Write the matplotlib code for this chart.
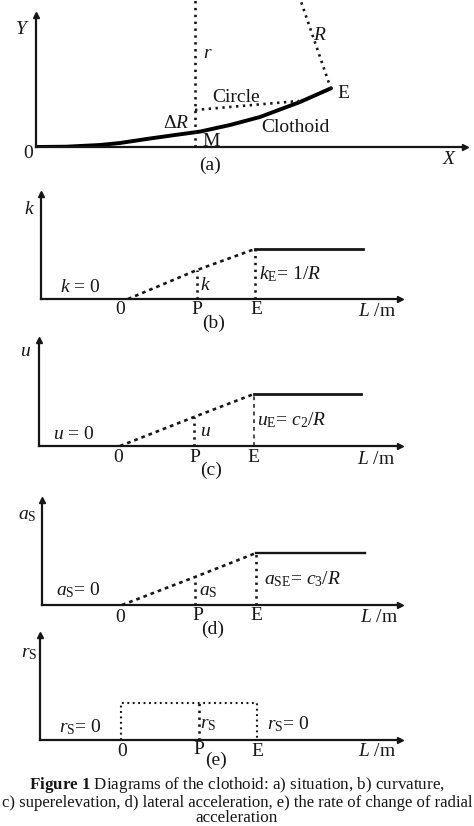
import matplotlib
matplotlib.use("Agg")
import matplotlib.pyplot as plt

plt.rcParams.update({
    "font.family": ["Liberation Serif", "DejaVu Serif"],
    "mathtext.fontset": "custom",
    "mathtext.rm": "Liberation Serif",
    "mathtext.it": "Liberation Serif:italic",
    "mathtext.bf": "Liberation Serif:bold",
})

W, H = 474, 826
INK = "#161616"

# Panel (a): geometry
clothoid_x = [0, 30, 64, 84, 114, 139, 164, 194, 224, 264, 295]
clothoid_y = [0, 0.3, 2, 4, 8.5, 12, 15.4, 22, 30, 45, 58.7]
radius_x = [159, 159]
radius_y = [0, 160]
ordinate_x = [159, 263]
ordinate_y = [37, 46]
big_r_x = [295, 260]
big_r_y = [58, 160]

# Panels (b)-(d): ramp values then a flat stretch
ramp_b_x, ramp_b_y = [87, 156, 214], [0, 29, 50]
flat_b_x, flat_b_y = [214, 322], [50, 50]
ramp_c_x, ramp_c_y = [81, 155, 215], [0, 29, 52]
flat_c_x, flat_c_y = [215, 322], [52, 52]
ramp_d_x, ramp_d_y = [80, 153, 214], [0, 28, 52]
flat_d_x, flat_d_y = [214, 323], [52, 52]
# Panel (e): a rectangular pulse
pulse_e_x = [81, 81, 217, 217]
pulse_e_y = [0, 37, 37, 0]
mid_e_x = [159, 159]
mid_e_y = [0, 37]

CAPTION = [
    r"$\mathbf{Figure\ 1}$ Diagrams of the clothoid: a) situation, b) curvature,",
    "c) superelevation, d) lateral acceleration, e) the rate of change of radial",
    "acceleration",
]

fig = plt.figure(figsize=(W / 100, H / 100), dpi=100, facecolor="white")


def panel(x0, y0, w, h):
    ax = fig.add_axes([x0 / W, 1 - y0 / H, w / W, h / H])
    ax.set_xlim(0, w)
    ax.set_ylim(0, h)
    ax.patch.set_alpha(0)
    for s in ("top", "right"):
        ax.spines[s].set_visible(False)
    for s in ("left", "bottom"):
        ax.spines[s].set_linewidth(1.6)
        ax.spines[s].set_color(INK)
    ax.set_xticks([])
    ax.set_yticks([])
    ax.plot(1, 0, ">", transform=ax.transAxes, clip_on=False, color=INK, ms=4.5)
    ax.plot(0, 1, "^", transform=ax.transAxes, clip_on=False, color=INK, ms=4.5)
    return ax


def dash(ax, x, y, lw=1.9, pat=(1.4, 1.5)):
    ax.plot(x, y, color=INK, lw=lw, ls=(0, pat), clip_on=False)


DOT = (0.9, 1.7)


def txt(x, y, s, size=14, **kw):
    fig.text(x / W, 1 - y / H, s, fontsize=size, ha="center", va="center",
             color=INK, **kw)


# (a)
ax = panel(36, 147, 429, 132)
ax.plot(clothoid_x, clothoid_y, color="black", lw=2.8, solid_capstyle="round")
dash(ax, radius_x, radius_y, pat=DOT)
dash(ax, ordinate_x, ordinate_y, pat=DOT)
dash(ax, big_r_x, big_r_y, pat=DOT)
for x, y, s in [(22, 30, "$Y$"), (208, 53, "$r$"), (320, 35, "$R$"), (343, 94, "E"),
                (236, 98, "Circle"), (176, 124, r"$\Delta R$"), (211, 142, "M"),
                (295, 127, "Clothoid"), (28, 154, "0"), (210, 165, "(a)"),
                (450, 160, "$X$")]:
    txt(x, y, s)

# (b)
ax = panel(41, 299, 359, 105)
dash(ax, ramp_b_x, ramp_b_y)
ax.plot(flat_b_x, flat_b_y, color=INK, lw=2)
dash(ax, [ramp_b_x[1]] * 2, [0, ramp_b_y[1]], pat=DOT)
dash(ax, [ramp_b_x[2]] * 2, [0, ramp_b_y[2]], pat=DOT)
for x, y, s in [(29, 209, "$k$"), (80, 288, "$k$ = 0"), (120, 309, "0"), (197, 309, "P"),
                (256, 309, "E"), (377, 311, "$L$ /m"), (214, 323, "(b)"), (205, 286, "$k$"),
                (290, 274, r"$k_{\mathrm{E}}$= 1/$R$")]:
    txt(x, y, s)

# (c)
ax = panel(39, 446, 361, 106)
dash(ax, ramp_c_x, ramp_c_y)
ax.plot(flat_c_x, flat_c_y, color=INK, lw=2)
dash(ax, [ramp_c_x[1]] * 2, [0, ramp_c_y[1]], pat=DOT)
dash(ax, [ramp_c_x[2]] * 2, [0, ramp_c_y[2]], lw=1.1, pat=(2.5, 2.5))
for x, y, s in [(26, 352, "$u$"), (74, 434, "$u$ = 0"), (118, 457, "0"), (195, 457, "P"),
                (253, 457, "E"), (376, 459, "$L$ /m"), (211, 470, "(c)"), (206, 431, "$u$"),
                (292, 420, r"$u_{\mathrm{E}}$= $c_2$/$R$")]:
    txt(x, y, s)

# (d)
ax = panel(42, 605, 358, 105)
dash(ax, ramp_d_x, ramp_d_y)
ax.plot(flat_d_x, flat_d_y, color=INK, lw=1.7)
dash(ax, [ramp_d_x[1]] * 2, [0, ramp_d_y[1]], pat=DOT)
dash(ax, [ramp_d_x[2]] * 2, [0, ramp_d_y[2]], pat=DOT)
for x, y, s in [(27, 515, r"$a_{\mathrm{S}}$"), (78, 590, r"$a_{\mathrm{S}}$= 0"), (120, 617, "0"),
                (198, 616, "P"), (256, 616, "E"), (379, 618, "$L$ /m"), (213, 629, "(d)"),
                (208, 591, r"$a_{\mathrm{S}}$"), (302, 579, r"$a_{\mathrm{SE}}$= $c_3$/$R$")]:
    txt(x, y, s)

# (e)
ax = panel(40, 740, 360, 105)
dash(ax, pulse_e_x, pulse_e_y, lw=1.5, pat=DOT)
dash(ax, mid_e_x, mid_e_y, pat=DOT)
for x, y, s in [(29, 653, r"$r_{\mathrm{S}}$"), (80, 727, r"$r_{\mathrm{S}}$= 0"), (122, 751, "0"),
                (199, 750, "P"), (257, 751, "E"), (377, 751, "$L$ /m"), (216, 760, "(e)"),
                (208, 724, r"$r_{\mathrm{S}}$"), (288, 724, r"$r_{\mathrm{S}}$= 0")]:
    txt(x, y, s)

# Caption
for y, s, sz in zip([785, 803, 818], CAPTION, [12.25, 12.0, 12.25]):
    txt(237, y, s, size=sz)

fig.savefig("out.png", dpi=100)
